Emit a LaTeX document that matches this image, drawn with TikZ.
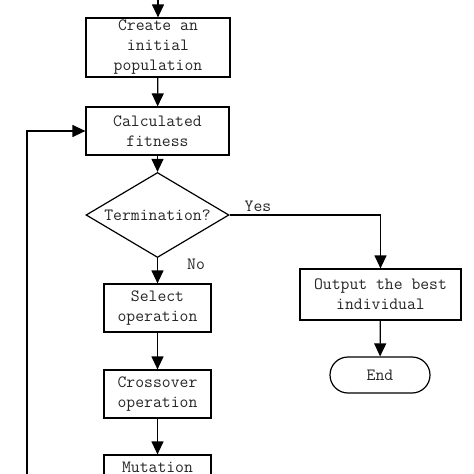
\documentclass[tikz,border=0pt]{standalone}
\usepackage{tikz}
\usetikzlibrary{calc}
\usetikzlibrary{shapes.geometric,shapes.misc,arrows.meta,positioning}

\begin{document}
\begin{tikzpicture}[x=1pt,y=-1pt,line width=1.2pt,
                    >={Triangle[length=13pt,width=12pt]},
                    every node/.style={font=\fontsize{17.2}{20}\selectfont\ttfamily,text=black!85},
                    proc box/.style={rectangle,draw=black,inner sep=0pt,align=center},
                    test node/.style={diamond,draw=black,inner sep=0pt,aspect=1.68,minimum width=143pt,minimum height=85pt},
                    stop node/.style={rounded rectangle,draw=black,inner sep=0pt,minimum width=100pt,minimum height=36pt}]

  \useasboundingbox (0,0) rectangle (474,474);

  \coordinate (start) at (158,0);
  \node[proc box,minimum width=144pt,minimum height=59pt] (init) at (158,47.5) {Create an\\initial\\population};
  \node[proc box,minimum width=143pt,minimum height=48pt] (fit) at (157.5,131) {Calculated\\fitness};
  \node[test node] (term) at (157.5,215) {Termination?};

  \node[proc box,minimum width=107pt,minimum height=48pt] (sel) at (157.5,308) {Select\\operation};
  \node[proc box,minimum width=107pt,minimum height=48pt] (cross) at (157.5,394) {Crossover\\operation};
  \node[proc box,minimum width=107pt,minimum height=48pt] (mut) at (157.5,479) {Mutation\\operation};

  \node[proc box,minimum width=161pt,minimum height=51pt] (out) at (380.5,294.5) {Output the best\\individual};
  \node[stop node] (end) at (380,375) {End};

  \coordinate (loop) at (27,490);

  \path[->]
    (start) edge (init)
    (init) edge (fit)
    (fit) edge (term)
    (term) edge (sel)
    (sel) edge (cross)
    (cross) edge (mut)
    (out) edge (end);

  \draw[->] (term.east) -| (out.north);
  \draw[->] (loop) |- (fit.west);

  \node at (258,206) {Yes};
  \node at (196,264) {No};

\end{tikzpicture}
\end{document}
